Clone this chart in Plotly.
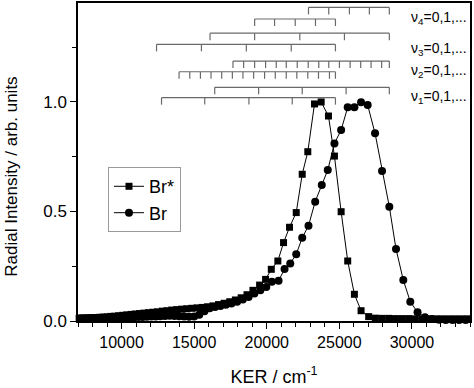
import plotly.graph_objects as go

# ---------------- data ----------------
ker_brstar = [7080, 7300, 7530, 7760, 8000, 8240, 8490, 8740, 9000, 9260, 9530, 9800,
              10080, 10360, 10650, 10940, 11240, 11540, 11850, 12160, 12480, 12800, 13130,
              13460, 13800, 14140, 14490, 14840, 15200, 15560, 15930, 16300, 16680, 17060,
              17450, 17840, 18240, 18640, 19048, 19509, 19921, 20313, 20766, 21158, 21570,
              22031, 22443, 22828, 23289, 23749, 24251, 24663, 25124, 25577, 26038, 26498,
              27021, 27480, 27940, 28400, 28860, 29310, 29770, 30220, 30680, 31130, 31580,
              32030, 32480, 32930, 33380, 33830]
int_brstar = [0.012, 0.012, 0.013, 0.014, 0.015, 0.016, 0.017, 0.018, 0.019, 0.021, 0.022, 0.024,
              0.026, 0.028, 0.030, 0.032, 0.034, 0.036, 0.038, 0.040, 0.042, 0.045, 0.047,
              0.050, 0.052, 0.054, 0.056, 0.058, 0.060, 0.062, 0.065, 0.069, 0.075, 0.081,
              0.088, 0.096, 0.106, 0.120, 0.140, 0.164, 0.190, 0.236, 0.274, 0.358, 0.428,
              0.495, 0.670, 0.773, 0.991, 1.000, 0.936, 0.753, 0.499, 0.274, 0.122, 0.047,
              0.020, 0.013, 0.012, 0.012, 0.011, 0.011, 0.011, 0.010, 0.010, 0.010, 0.010,
              0.010, 0.010, 0.010, 0.010, 0.010]

ker_br = [7150, 7370, 7590, 7810, 8040, 8270, 8510, 8750, 9000, 9250, 9510, 9770,
          10040, 10310, 10590, 10870, 11160, 11450, 11750, 12050, 12360, 12670, 12990,
          13310, 13640, 13970, 14310, 14650, 15000, 15350, 15710, 16070, 16440, 16810,
          17190, 17570, 17960, 18350, 18750, 19150, 19560, 19969, 20354, 20814, 21227,
          21619, 22031, 22443, 22876, 23337, 23790, 24203, 24663, 25124, 25577, 26038,
          26498, 26952, 27460, 27942, 28443, 28904, 29405, 29887, 30388, 30897, 31378,
          31870, 32330, 32800, 33250, 33700]
int_br = [0.012, 0.012, 0.012, 0.013, 0.013, 0.013, 0.014, 0.014, 0.014, 0.015, 0.015, 0.016,
          0.016, 0.016, 0.017, 0.017, 0.018, 0.018, 0.019, 0.020, 0.021, 0.022, 0.023,
          0.024, 0.023, 0.022, 0.020, 0.019, 0.020, 0.028, 0.045, 0.058, 0.064, 0.069,
          0.074, 0.080, 0.088, 0.098, 0.110, 0.125, 0.140, 0.155, 0.179, 0.184, 0.237,
          0.263, 0.305, 0.380, 0.435, 0.545, 0.621, 0.689, 0.811, 0.872, 0.976, 0.976,
          0.999, 0.986, 0.857, 0.685, 0.522, 0.329, 0.187, 0.088, 0.040, 0.017, 0.009,
          0.006, 0.005, 0.005, 0.005, 0.005]

series_names = ["Br*", "Br"]

# vibrational progression combs (tick energies, cm^-1) and their heights
comb_v4_upper = [22876, 24271, 25694, 27069, 28443]
comb_v4_lower = [19165, 20540, 21962, 23357, 24732]
comb_v3_upper = [16093, 19165, 22278, 25351, 28443]
comb_v3_lower = [12409, 15502, 18595, 21687, 24732]
comb_v2_upper = [17674, 18409, 19165, 19921, 20656, 21344, 22100, 22856, 23584, 24271,
                 25007, 25742, 26471, 27186, 27914, 28443]
comb_v2_lower = [13962, 14698, 15433, 16162, 16897, 17632, 18361, 19096, 19852, 20588,
                 21344, 22072, 22828, 23564, 24320, 24732]
comb_v1_upper = [16416, 19440, 22443, 25467, 28443]
comb_v1_lower = [12753, 15729, 18773, 21756, 24732]
comb_heights = [1.432, 1.379, 1.314, 1.263, 1.187, 1.138, 1.067, 1.020]

comb_labels = ["ν<sub>4</sub>=0,1,...", "ν<sub>3</sub>=0,1,...",
               "ν<sub>2</sub>=0,1,...", "ν<sub>1</sub>=0,1,..."]
comb_label_y = [1.382, 1.241, 1.143, 1.024]

x_ticks = [10000, 15000, 20000, 25000, 30000]
y_ticks = [0.0, 0.5, 1.0]

# ---------------- figure ----------------
FONT = "Liberation Sans, Arial, sans-serif"
fig = go.Figure()

fig.add_trace(go.Scatter(
    x=ker_brstar, y=int_brstar, name=series_names[0], mode="lines+markers",
    line=dict(color="black", width=1),
    marker=dict(symbol="square", size=7, color="black"),
    cliponaxis=False))
fig.add_trace(go.Scatter(
    x=ker_br, y=int_br, name=series_names[1], mode="lines+markers",
    line=dict(color="black", width=1),
    marker=dict(symbol="circle", size=8, color="black"),
    cliponaxis=False))

combs = [comb_v4_upper, comb_v4_lower, comb_v3_upper, comb_v3_lower,
         comb_v2_upper, comb_v2_lower, comb_v1_upper, comb_v1_lower]
tick_drop = 0.032
shapes = []
comb_style = dict(color="#6a6a6a", width=1.2)
for ticks, h in zip(combs, comb_heights):
    shapes.append(dict(type="line", xref="x", yref="y", x0=ticks[0], x1=ticks[-1],
                       y0=h, y1=h, line=comb_style, layer="below"))
    for t in ticks:
        shapes.append(dict(type="line", xref="x", yref="y", x0=t, x1=t,
                           y0=h, y1=h - tick_drop, line=comb_style, layer="below"))

annotations = []
for lab, ly in zip(comb_labels, comb_label_y):
    annotations.append(dict(x=29800, y=ly, xref="x", yref="y", text=lab,
                            showarrow=False, xanchor="left", yanchor="middle",
                            font=dict(family=FONT, size=14, color="black")))
annotations.append(dict(x=-0.169, y=0.453, xref="paper", yref="paper",
                        text="Radial Intensity / arb. units", textangle=-90,
                        showarrow=False, xanchor="center", yanchor="middle",
                        font=dict(family=FONT, size=17, color="black")))

fig.update_layout(
    width=474, height=388,
    margin=dict(l=78, r=4, t=3, b=67),
    paper_bgcolor="white", plot_bgcolor="white",
    font=dict(family=FONT, size=16, color="black"),
    shapes=shapes, annotations=annotations,
    showlegend=True,
    legend=dict(x=0.0765, y=0.484, xanchor="left", yanchor="top",
                bgcolor="white", bordercolor="#999999", borderwidth=1,
                font=dict(family=FONT, size=18, color="black"),
                tracegroupgap=0, itemwidth=30),
)
fig.update_xaxes(
    range=[7000, 34000], tickvals=x_ticks, ticktext=[str(v) for v in x_ticks],
    showgrid=False, zeroline=False, automargin=False,
    showline=True, linecolor="black", linewidth=1.5, mirror=True,
    ticks="outside", ticklen=6, tickwidth=1.2, tickcolor="black",
    minor=dict(dtick=1000, ticks="outside", ticklen=4, tickwidth=1, tickcolor="black"),
    tickfont=dict(size=16),
    title=dict(text="KER / cm<sup>-1</sup>", font=dict(size=18), standoff=20),
)
fig.update_yaxes(
    range=[0, 1.452], tickvals=y_ticks, ticktext=["0.0", "0.5", "1.0"],
    showgrid=False, zeroline=False, automargin=False,
    showline=True, linecolor="black", linewidth=1.5, mirror=True,
    ticks="outside", ticklen=6, tickwidth=1.2, tickcolor="black",
    minor=dict(tickvals=[0.25, 0.75, 1.25], ticks="outside", ticklen=4, tickwidth=1,
               tickcolor="black"),
    tickfont=dict(size=17),
)

fig.write_html(
    "out.html",
    config={"displayModeBar": False},
    post_script="document.body.style.margin='0';document.body.style.overflow='hidden';",
)
